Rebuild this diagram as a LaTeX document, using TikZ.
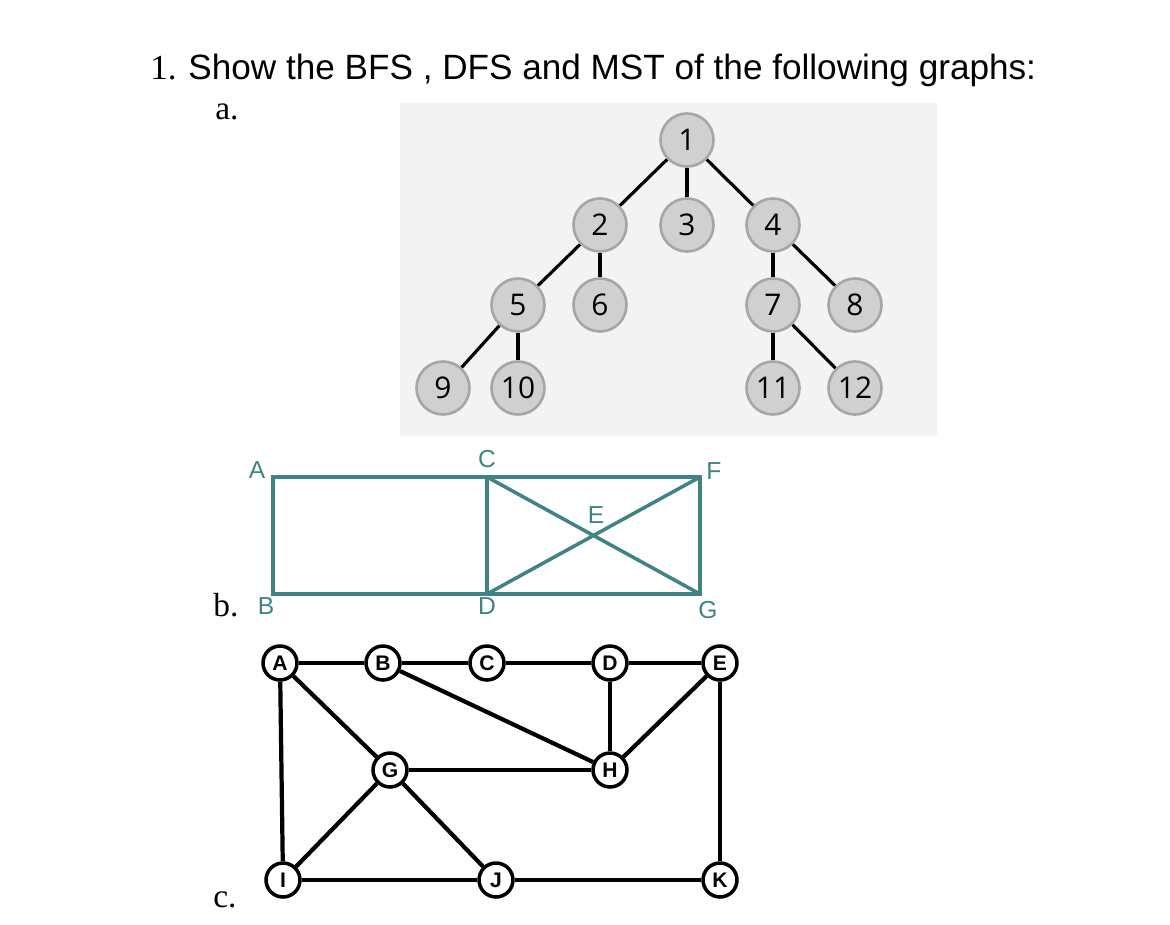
\documentclass[tikz,border=0pt]{standalone}
\usepackage{fontspec}
\setmainfont{Liberation Serif}
\newfontfamily\arialfont{Liberation Sans}
\newfontfamily\treefont{Open Sans}
\usetikzlibrary{positioning}
\definecolor{PanelGray}{HTML}{F3F3F3}
\definecolor{NodeGray}{HTML}{D0D0D0}
\definecolor{EdgeTeal}{HTML}{3F8384}
\tikzset{
  treenode/.style={circle, draw=gray!70, line width=1.5pt, fill=NodeGray, minimum size=1.06cm, inner sep=0pt, font=\treefont\fontsize{17}{17}\selectfont},
  treeedge/.style={line width=1.8pt, black},
  rectlabel/.style={text=EdgeTeal, font=\arialfont\fontsize{14}{14}\selectfont, inner sep=1pt},
  graphnode/.style={circle, draw, line width=2pt, fill=white, minimum size=0.68cm, inner sep=0pt, font=\arialfont\bfseries\fontsize{12}{12}\selectfont},
  graphedge/.style={line width=2.4pt, black},
  partlabel/.style={font=\fontsize{19}{19}\selectfont, anchor=west, inner sep=0pt}
}
\begin{document}
\begin{tikzpicture}[x=0.02cm, y=-0.02cm]
  \useasboundingbox (0,0) rectangle (1170,924);
  % Heading and part labels
  \node[anchor=west, inner sep=0pt] (title) at (150,70) {\fontsize{20}{20}\selectfont 1. {\arialfont Show the BFS , DFS and MST of the following graphs:}};
  \node[partlabel] (parta) at (215,112) {a.};
  \node[partlabel] (partb) at (213,605) {b.};
  \node[partlabel] (partc) at (213,900) {c.};

  % a. tree
  \fill[PanelGray] (400,103) rectangle (937,436);
  \node[treenode] (t1) at (687,140) {1};
  \node[treenode] (t2) at (600,225) {2};
  \node[treenode] (t3) at (687,225) {3};
  \node[treenode] (t4) at (773,225) {4};
  \node[treenode] (t5) at (518,305) {5};
  \node[treenode] (t6) at (600,305) {6};
  \node[treenode] (t7) at (773,305) {7};
  \node[treenode] (t8) at (855,305) {8};
  \node[treenode] (t9) at (443,388) {9};
  \node[treenode] (t10) at (518,388) {10};
  \node[treenode] (t11) at (773,388) {11};
  \node[treenode] (t12) at (855,388) {12};
  \foreach \a/\b in {1/2,1/3,1/4,2/5,2/6,4/7,4/8,5/9,5/10,7/11,7/12}
    \draw[treeedge] (t\a) -- (t\b);

  % b. rectangles
  \coordinate (A) at (273,477);
  \coordinate (C) at (487,477);
  \coordinate (F) at (700,477);
  \coordinate (B) at (273,594);
  \coordinate (D) at (487,594);
  \coordinate (G) at (700,594);
  \draw[EdgeTeal, line width=2pt] (A) -- (F) -- (G) -- (B) -- cycle;
  \draw[EdgeTeal, line width=2pt] (C) -- (D) (C) -- (G) (D) -- (F);
  \node[rectlabel] (la) at (257,470) {A};
  \node[rectlabel] (lb) at (266,606) {B};
  \node[rectlabel] (lc) at (487,459) {C};
  \node[rectlabel] (ld) at (487,606) {D};
  \node[rectlabel] (le) at (596,515) {E};
  \node[rectlabel] (lf) at (714,471) {F};
  \node[rectlabel] (lg) at (708,610) {G};

  % c. graph
  \node[graphnode] (cA) at (280,663) {A};
  \node[graphnode] (cB) at (383,663) {B};
  \node[graphnode] (cC) at (487,663) {C};
  \node[graphnode] (cD) at (610,663) {D};
  \node[graphnode] (cE) at (720,663) {E};
  \node[graphnode] (cG) at (390,770) {G};
  \node[graphnode] (cH) at (610,770) {H};
  \node[graphnode] (cI) at (283,880) {I};
  \node[graphnode] (cJ) at (496,880) {J};
  \node[graphnode] (cK) at (720,880) {K};
  \foreach \a/\b in {A/B,B/C,C/D,D/E,A/I,A/G,B/H,D/H,E/H,E/K,G/H,G/I,G/J,I/J,J/K}
    \draw[graphedge] (c\a) -- (c\b);
\end{tikzpicture}
\end{document}
